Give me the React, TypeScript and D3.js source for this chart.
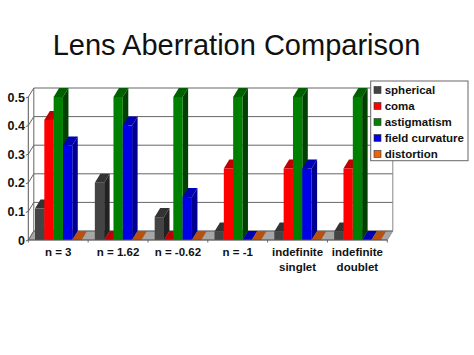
import React from "react";
import * as d3 from "d3";

const categories = [["n = 3"], ["n = 1.62"], ["n = -0.62"], ["n = -1"], ["indefinite", "singlet"], ["indefinite", "doublet"]];
const seriesNames = ["spherical", "coma", "astigmatism", "field curvature", "distortion"];
const spherical = [0.11, 0.2, 0.08, 0.03, 0.03, 0.03];
const coma = [0.42, 0, 0, 0.25, 0.25, 0.25];
const astigmatism = [0.5, 0.5, 0.5, 0.5, 0.5, 0.5];
const fieldCurvature = [0.33, 0.4, 0.15, 0, 0.25, 0];
const distortion = [0, 0, 0, 0, 0, 0];
const allSeries = [spherical, coma, astigmatism, fieldCurvature, distortion];
const yTicks = [0, 0.1, 0.2, 0.3, 0.4, 0.5];
const front = ["#444444", "#ff0000", "#008000", "#0000e6", "#e8640f"];
const top = ["#333333", "#c00000", "#006000", "#0000b4", "#b85010"];
const side = ["#222222", "#8c0000", "#004000", "#000090", "#a04408"];

const FONT = "'Liberation Sans', Arial, sans-serif";
const DX = 5.5;
const DY = -9;

export default function App() {
  const x = d3.scaleBand<number>().domain(d3.range(categories.length)).range([28.3, 387.3]);
  const y = d3.scaleLinear().domain([0, 0.5]).range([240, 97]);
  const inner = d3.scaleBand<number>().domain(d3.range(seriesNames.length)).range([6.7, 6.7 + 46.6]);
  const x0 = x.range()[0];
  const x1 = x.range()[1];
  const pts = (p: number[][]) => p.map((q) => q.join(",")).join(" ");
  const bars: React.ReactNode[] = [];
  categories.forEach((_, c) => {
    allSeries.forEach((vals, s) => {
      const l = x(c)! + inner(s)!;
      const w = inner.bandwidth();
      const yt = y(vals[c]);
      const yb = y(0);
      bars.push(
        <g key={`${c}-${s}`}>
          <polygon points={pts([[l + w, yt], [l + w + DX, yt + DY], [l + w + DX, yb + DY], [l + w, yb]])} fill={side[s]} />
          <polygon points={pts([[l, yt], [l + DX, yt + DY], [l + w + DX, yt + DY], [l + w, yt]])} fill={top[s]} />
          <rect x={l} y={yt} width={w} height={yb - yt} fill={front[s]} />
        </g>
      );
    });
  });
  return (
    <svg width={474} height={355} style={{ position: "absolute", left: 0, top: 0, background: "#fff" }} fontFamily={FONT}>
      <text x={236.5} y={55} textAnchor="middle" fontSize={29} fill="#111">Lens Aberration Comparison</text>
      <polygon points={pts([[x0, y(0)], [x0 + DX, y(0) + DY], [x1 + DX, y(0) + DY], [x1, y(0)]])} fill="#a6a6a6" stroke="#777" strokeWidth={0.6} />
      {yTicks.map((t) => (
        <g key={t} stroke="#666" strokeWidth={1} fill="none">
          <polyline points={pts([[x0 - 2.5, y(t) + 1], [x0, y(t)], [x0 + DX, y(t) + DY], [x1 + DX, y(t) + DY]])} />
        </g>
      ))}
      <line x1={x0} x2={x0} y1={y(0)} y2={y(0.5)} stroke="#555" />
      <line x1={x0 + DX} x2={x0 + DX} y1={y(0) + DY} y2={y(0.5) + DY} stroke="#666" />
      <line x1={x1 + DX} x2={x1 + DX} y1={y(0) + DY} y2={y(0.5) + DY} stroke="#888" />
      {bars}
      <line x1={x0} x2={x1} y1={y(0)} y2={y(0)} stroke="#555" />
      {d3.range(categories.length + 1).map((i) => {
        const tx = i < categories.length ? x(i)! : x1;
        return <line key={i} x1={tx} x2={tx} y1={y(0)} y2={y(0) + 2.5} stroke="#666" />;
      })}
      {yTicks.map((t) => (
        <text key={t} x={25} y={y(t) + 4.5} textAnchor="end" fontSize={12.5} fontWeight="bold" fill="#111">{t === 0 ? "0" : t.toFixed(1)}</text>
      ))}
      {categories.map((lines, c) => (
        <text key={c} textAnchor="middle" fontSize={11.5} fontWeight="bold" fill="#111">
          {lines.map((ln, i) => (
            <tspan key={i} x={x(c)! + x.bandwidth() / 2} y={256 + i * 14.6}>{ln}</tspan>
          ))}
        </text>
      ))}
      <rect x={370.7} y={81} width={97.3} height={79.7} fill="#fff" stroke="#666" />
      {seriesNames.map((n, i) => (
        <g key={n}>
          <rect x={374} y={86.5 + i * 16} width={7} height={7} fill={front[i]} stroke="#333" strokeWidth={0.6} />
          <text x={384.7} y={94 + i * 16} fontSize={11.5} fontWeight="bold" fill="#111">{n}</text>
        </g>
      ))}
    </svg>
  );
}
